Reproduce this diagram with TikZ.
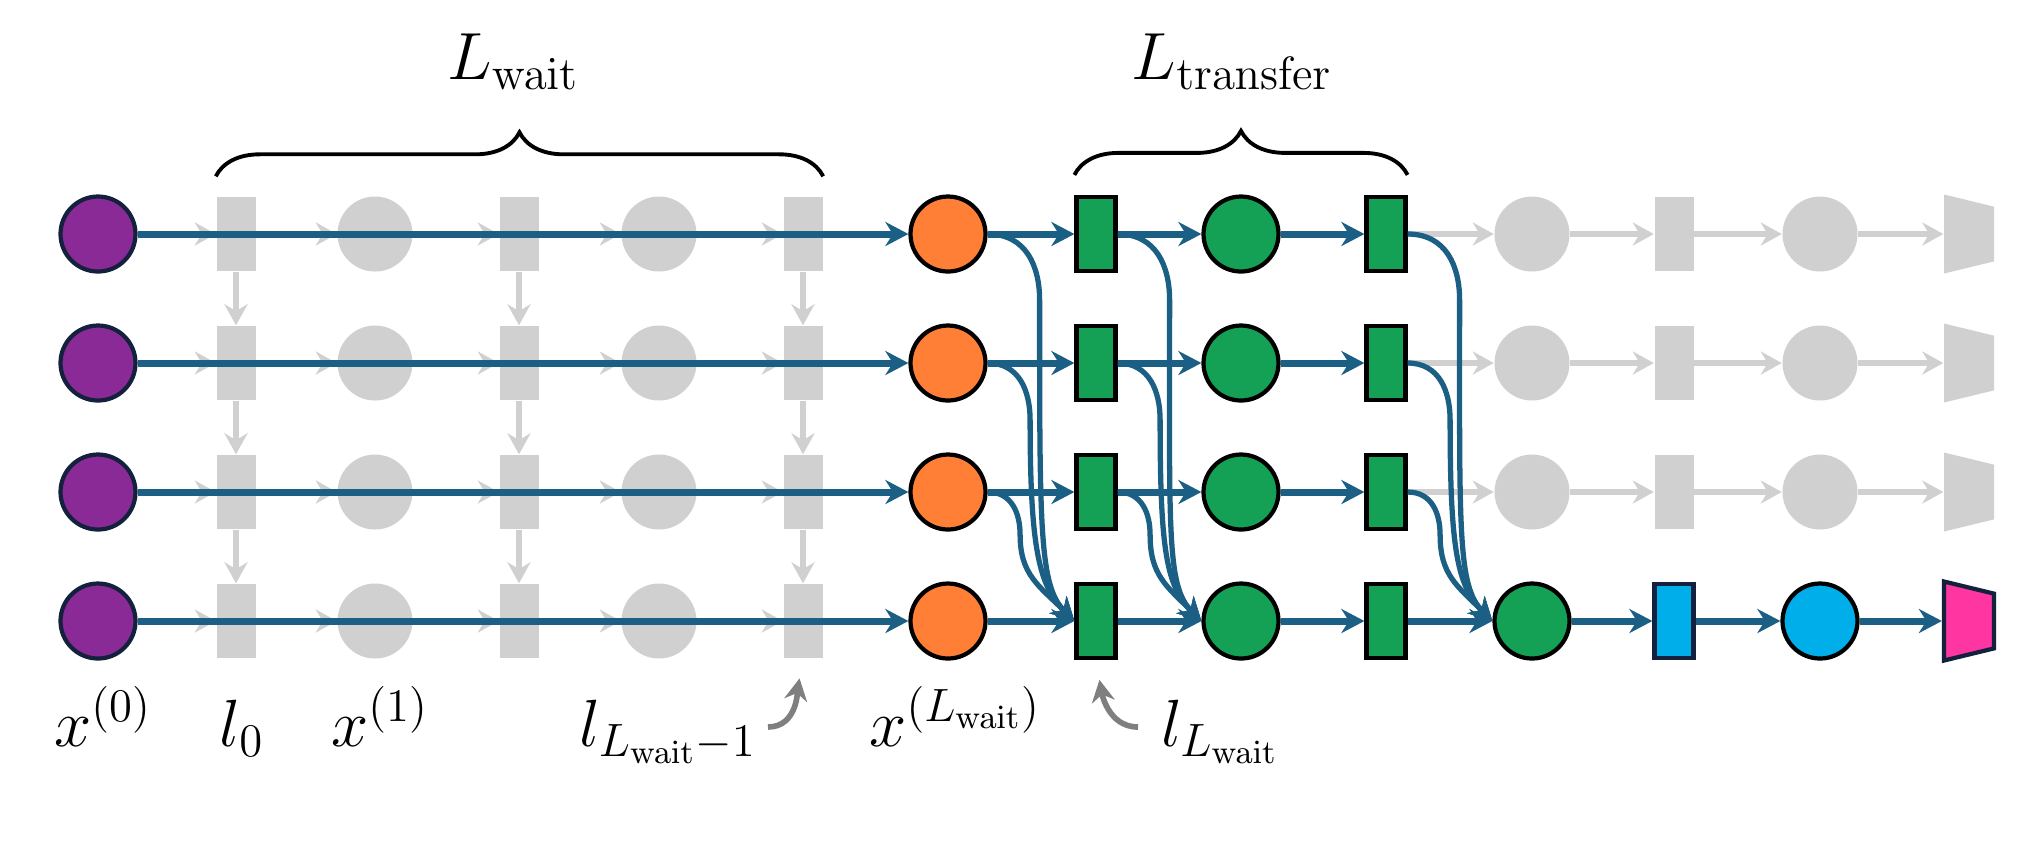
\RequirePackage{fix-cm}
\documentclass[tikz,border=0pt]{standalone}
\usetikzlibrary{arrows.meta,shapes.geometric,decorations.pathreplacing}

\definecolor{purp}{HTML}{8A2A96}
\definecolor{orng}{HTML}{FF7F36}
\definecolor{grn}{HTML}{14A155}
\definecolor{sky}{HTML}{00AEEA}
\definecolor{hot}{HTML}{FF35A2}
\definecolor{navy}{HTML}{14213D}
\definecolor{flowblue}{HTML}{1B5F84}
\definecolor{offgray}{HTML}{D0D0D0}
\definecolor{notegray}{HTML}{7F7F7F}

\begin{document}
\begin{tikzpicture}[
    every node/.style={inner sep=0pt},
    dot/.style={circle, minimum size=7.5mm},
    blk/.style={rectangle, minimum width=3.9mm, minimum height=7.4mm},
    head/.style={trapezium, rotate=-90, inner sep=1pt, trapezium stretches=true,
        trapezium angle=77.5, minimum width=7.9mm, minimum height=5mm},
    off/.style={fill=offgray},
    on/.style={fill=#1, draw=black, line width=1.2pt},
    flow/.style={color=flowblue, line width=2pt, -{Stealth[length=2.3mm,width=2.4mm]}},
    skip/.style={flow, line width=1.5pt},
    dim/.style={color=offgray, line width=1.6pt, -{Stealth[length=2.1mm,width=2.3mm]}},
    note/.style={color=notegray, line width=1.6pt, -{Stealth[length=2.2mm,width=2.3mm]}},
    lab/.style={font=\fontsize{19}{23}\selectfont},
    brc/.style={decorate, decoration={brace, amplitude=4.4mm}, line width=1.1pt}
]
% \draw [help lines] (0,-8.56) grid (20.43,0) ;
\useasboundingbox (0,0) rectangle (20.43,-8.56) ;

% the four rows
\foreach \i/\y in {1/-2.34, 2/-3.63, 3/-4.92, 4/-6.21} {
    \node[dot, on=purp, draw=navy] (x0-\i) at (0.98,\y) {} ;
    \node[blk, off] (l0-\i) at (2.36,\y) {} ;
    \node[dot, off] (x1-\i) at (3.75,\y) {} ;
    \node[blk, off] (l1-\i) at (5.19,\y) {} ;
    \node[dot, off] (x2-\i) at (6.59,\y) {} ;
    \node[blk, off] (l2-\i) at (8.03,\y) {} ;
    \node[dot, on=orng] (xw-\i) at (9.48,\y) {} ;
    \node[blk, on=grn] (t0-\i) at (10.96,\y) {} ;
    \node[dot, on=grn] (tx-\i) at (12.41,\y) {} ;
    \node[blk, on=grn] (t1-\i) at (13.86,\y) {} ;
}
\foreach \i/\y in {1/-2.34, 2/-3.63, 3/-4.92} {
    \node[dot, off] (y-\i) at (15.32,\y) {} ;
    \node[blk, off] (m-\i) at (16.74,\y) {} ;
    \node[dot, off] (z-\i) at (18.20,\y) {} ;
    \node[head, off] (o-\i) at (19.69,\y) {} ;
}
\node[dot, on=grn] (y-4) at (15.32,-6.21) {} ;
\node[blk, on=sky, draw=navy] (m-4) at (16.74,-6.21) {} ;
\node[dot, on=sky] (z-4) at (18.20,-6.21) {} ;
\node[head, on=hot, draw=navy] (o-4) at (19.69,-6.21) {} ;

% greyed out layers
\foreach \i in {1,2,3,4}
    \draw[dim] (x0-\i) edge (l0-\i) (l0-\i) edge (x1-\i) (x1-\i) edge (l1-\i)
        (l1-\i) edge (x2-\i) (x2-\i) edge (l2-\i) ;
\foreach \i/\j in {1/2, 2/3, 3/4}
    \draw[dim] (l0-\i) edge (l0-\j) (l1-\i) edge (l1-\j) (l2-\i) edge (l2-\j) ;
\foreach \i in {1,2,3}
    \draw[dim] (t1-\i) edge (y-\i) (y-\i) edge (m-\i) (m-\i) edge (z-\i) (z-\i) edge (o-\i) ;

% active path
\foreach \i in {1,2,3,4}
    \draw[flow] (x0-\i) edge (xw-\i) (xw-\i) edge (t0-\i) (t0-\i) edge (tx-\i) (tx-\i) edge (t1-\i) ;
\draw[flow] (t1-4) edge (y-4) (y-4) edge (m-4) (m-4) edge (z-4) (z-4) edge (o-4) ;

% transfer into the last row
\foreach \i/\dx/\dy/\v in {1/0.52/-0.66/2.3, 2/0.425/-0.57/1.3, 3/0.325/-0.43/0.4} {
    \draw[skip] (xw-\i.east) .. controls +({0.75*\dx},0) and +(0,{-0.5*\dy}) .. ++(\dx,\dy)
        .. controls +(0,-\v) and +(-0.35,0.35) .. (t0-4.west) ;
    \draw[skip] (t0-\i.east) .. controls +({0.75*\dx},0) and +(0,{-0.5*\dy}) .. ++(\dx,\dy)
        .. controls +(0,-\v) and +(-0.35,0.35) .. (tx-4.west) ;
    \draw[skip] (t1-\i.east) .. controls +({0.75*\dx},0) and +(0,{-0.5*\dy}) .. ++(\dx,\dy)
        .. controls +(0,-\v) and +(-0.35,0.35) .. (y-4.west) ;
}

% braces
\draw[brc] ([yshift=2mm]l0-1.north west) -- ([yshift=2mm]l2-1.north east) ;
\draw[brc] ([yshift=2mm]t0-1.north west) -- ([yshift=2mm]t1-1.north east) ;
\node[lab] (Lw) at (5.13,-0.62) {$L_{\mathrm{wait}}$} ;
\node[lab] (Lt) at (12.32,-0.62) {$L_{\mathrm{transfer}}$} ;

% labels
\node[lab, anchor=base] (n-x0) at (1.03,-7.46) {$x^{(0)}$} ;
\node[lab, anchor=base] (n-l0) at (2.42,-7.46) {$l_0$} ;
\node[lab, anchor=base] (n-x1) at (3.80,-7.46) {$x^{(1)}$} ;
\node[lab, anchor=base] (n-l2) at (6.68,-7.46) {$l_{L_{\mathrm{wait}}-1}$} ;
\node[lab, anchor=base] (n-xw) at (9.55,-7.46) {$x^{(L_{\mathrm{wait}})}$} ;
\node[lab, anchor=base] (n-t0) at (12.20,-7.46) {$l_{L_{\mathrm{wait}}}$} ;

\coordinate (a1) at (7.68,-7.27) ;
\coordinate (a2) at (11.38,-7.27) ;
\draw[note, shorten >=2mm] (a1) to[out=0, in=-100] (l2-4.south) ;
\draw[note, shorten >=2mm] (a2) to[out=180, in=-80] (t0-4.south) ;
\end{tikzpicture}
\end{document}
